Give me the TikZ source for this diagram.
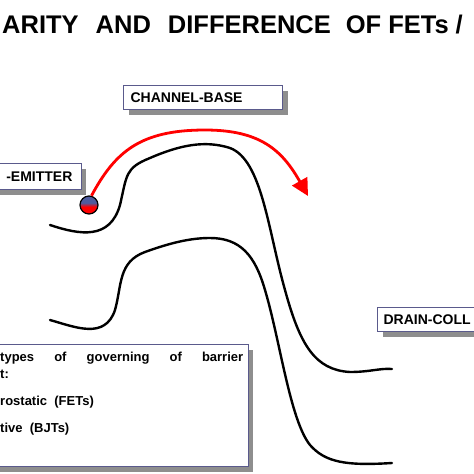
\documentclass[tikz,border=0pt]{standalone}
\usepackage{fontspec}
\setmainfont{Liberation Sans}
\usetikzlibrary{arrows.meta,shadows}
\definecolor{boxline}{HTML}{5A5A8C}
\definecolor{boxshade}{HTML}{8E8E8E}
\definecolor{holeblue}{HTML}{4E5C9E}
\pgfdeclareverticalshading{holeshade}{100bp}{color(0bp)=(red); color(25bp)=(red); color(45bp)=(red); color(56bp)=(holeblue); color(75bp)=(holeblue); color(100bp)=(holeblue)}
\tikzset{
  labelbox/.style={draw=boxline, line width=1.2pt, fill=white, font=\bfseries\fontsize{14}{16}\selectfont,
    drop shadow={shadow xshift=5pt, shadow yshift=-5pt, fill=boxshade, opacity=1}},
  bandline/.style={line width=2.4pt, line cap=round},
  notetext/.style={font=\bfseries\fontsize{13}{15}\selectfont, anchor=base west, inner sep=0pt}
}

\begin{document}
\begin{tikzpicture}[x=1pt,y=-1pt]
			%%%%% START %%%%%
			\useasboundingbox (0,0) rectangle (474,474);
			
			% title
			\node[font=\bfseries\fontsize{25.5}{28}\selectfont, anchor=base west, inner sep=0pt] (title) at (2,33) {ARITY\hspace{17pt}AND\hspace{17pt}DIFFERENCE\hspace{15pt}OF\hspace{7pt}FETs\hspace{7pt}/};
			
			% labels
			\node[labelbox, anchor=north west, text width=145pt, align=left, inner xsep=7pt, minimum height=24pt] (chan) at (123,85) {CHANNEL-BASE};
			\node[labelbox, anchor=north east, text width=72pt, align=right, inner xsep=9pt, minimum height=26pt] (emit) at (82,163) {-EMITTER};
			\node[labelbox, anchor=north west, text width=110pt, align=left, inner xsep=6pt, minimum height=24pt] (drain) at (377,307) {DRAIN-COLL};
			
			% band profiles
			\draw[bandline] (50,225) .. controls (80,235) and (110,240) .. (120,205)
			  .. controls (127,175) and (125,168) .. (150,158)
			  .. controls (180,145) and (205,140) .. (230,148)
			  .. controls (262,160) and (268,230) .. (285,290)
			  .. controls (300,345) and (315,370) .. (350,372)
			  .. controls (370,372) and (380,368) .. (392,369);
			\draw[bandline] (50,320) .. controls (75,327) and (105,340) .. (115,310)
			  .. controls (122,285) and (118,262) .. (145,252)
			  .. controls (170,243) and (190,238) .. (210,238)
			  .. controls (240,238) and (255,255) .. (265,290)
			  .. controls (280,340) and (290,420) .. (310,445)
			  .. controls (325,462) and (345,466) .. (392,463);
			
			% carrier and its path
			\node[circle, draw, line width=1.2pt, minimum size=18pt, inner sep=0pt, shading=holeshade] (ball) at (89,205) {};
			\coordinate (tip) at (308,196);
			\draw[red, line width=2.8pt, -{Triangle[length=17pt,width=17pt]}] (ball.75) .. controls (115,152) and (140,130) .. (205,130) .. controls (260,130) and (282,150) .. (tip);
			
			% note box
			\node[labelbox, anchor=north east, minimum width=262pt, minimum height=122pt] (note) at (249,344) {};
			\node[notetext] (l1) at (0,361) {\makebox[243pt][s]{types\hfill of\hfill governing\hfill of\hfill barrier}};
			\node[notetext] (l2) at (0,378) {t:};
			\node[notetext] (l3) at (0,405) {rostatic\ \ (FETs)};
			\node[notetext] (l4) at (0,432) {tive\ \ (BJTs)};
			
			%%%%% END %%%%%
\end{tikzpicture}
\end{document}
